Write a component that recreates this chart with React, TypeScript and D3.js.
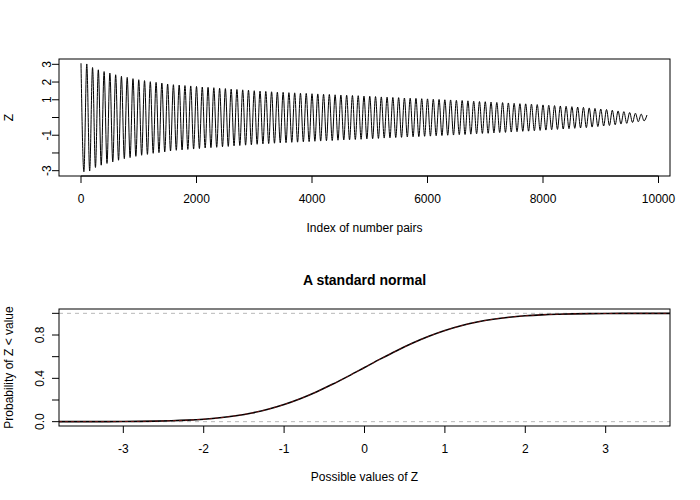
import { useMemo } from "react";
import { scaleLinear, line, curveMonotoneX } from "d3";

// top panel: peak height of each oscillation cycle (one cycle = 100 index steps)
const cycleLength = 100;
const cycleAmp = [
  3.06, 3.02, 2.82, 2.69, 2.59, 2.5, 2.41, 2.32, 2.26, 2.19, 2.13, 2.08, 2.02, 1.98, 1.94, 1.89, 1.85,
  1.83, 1.8, 1.78, 1.75, 1.72, 1.7, 1.68, 1.65, 1.63, 1.6, 1.58, 1.56, 1.54, 1.51, 1.49, 1.47, 1.45,
  1.43, 1.42, 1.4, 1.39, 1.37, 1.36, 1.34, 1.33, 1.31, 1.3, 1.28, 1.27, 1.26, 1.24, 1.23, 1.21, 1.2, 1.18,
  1.16, 1.15, 1.13, 1.12, 1.1, 1.09, 1.08, 1.06, 1.05, 1.03, 1.02, 1.0, 0.99, 0.97, 0.96, 0.94, 0.92,
  0.9, 0.89, 0.87, 0.85, 0.84, 0.82, 0.8, 0.78, 0.77, 0.75, 0.73, 0.71, 0.69, 0.67, 0.65, 0.63,
  0.61, 0.59, 0.57, 0.54, 0.51, 0.48, 0.45, 0.41, 0.37, 0.33, 0.28, 0.24, 0.19, 0.14,
];
const topXTicks = [0, 2000, 4000, 6000, 8000, 10000];
const topYTicks = [-3, -2, -1, 0, 1, 2, 3];
const topYLabels = ["-3", "", "-1", "", "1", "2", "3"];

// bottom panel: cumulative probability
const zValues = [
  -3.8, -3.6, -3.4, -3.2, -3.0, -2.8, -2.6, -2.4, -2.2, -2.0, -1.8, -1.6, -1.4, -1.2, -1.0, -0.8, -0.6, -0.4, -0.2, 0,
  0.2, 0.4, 0.6, 0.8, 1.0, 1.2, 1.4, 1.6, 1.8, 2.0, 2.2, 2.4, 2.6, 2.8, 3.0, 3.2, 3.4, 3.6, 3.8,
];
const probValues = [
  0.0001, 0.0002, 0.0003, 0.0007, 0.0013, 0.0026, 0.0047, 0.0082, 0.0139, 0.0228, 0.0359, 0.0548, 0.0808, 0.1151,
  0.1587, 0.2119, 0.2743, 0.3446, 0.4207, 0.5, 0.5793, 0.6554, 0.7257, 0.7881, 0.8413, 0.8849, 0.9192, 0.9452,
  0.9641, 0.9772, 0.9861, 0.9918, 0.9953, 0.9974, 0.9987, 0.9993, 0.9997, 0.9998, 0.9999,
];
const botXTicks = [-3, -2, -1, 0, 1, 2, 3];
const botYTicks = [0, 0.2, 0.4, 0.6, 0.8, 1.0];
const botYLabels = ["0.0", "", "0.4", "", "0.8", ""];
const refLines = [0, 1];

const font = "'Liberation Sans', Arial, Helvetica, sans-serif";

export default function App() {
  const left = 59;
  const right = 670;

  // top panel
  const x1 = scaleLinear().domain([-381, 10199]).range([left, right]);
  const y1 = scaleLinear().domain([-3.3, 3.3]).range([176, 59]);
  const zigzag = useMemo(() => {
    const pts: [number, number][] = [];
    cycleAmp.forEach((a, k) => {
      pts.push([k * cycleLength, a]);
      if (k < cycleAmp.length - 1) pts.push([k * cycleLength + cycleLength / 2, -a]);
    });
    return pts;
  }, []);
  const topPath =
    line<[number, number]>()
      .x((d) => x1(d[0]))
      .y((d) => y1(d[1]))
      .curve(curveMonotoneX)(zigzag) || "";

  // bottom panel
  const x2 = scaleLinear().domain([-3.8, 3.8]).range([left, right]);
  const y2 = scaleLinear().domain([-0.04, 1.04]).range([426, 309]);
  const cdf = zValues.map((z, i) => [z, probValues[i]] as [number, number]);
  const cdfPath =
    line<[number, number]>()
      .x((d) => x2(d[0]))
      .y((d) => y2(d[1]))
      .curve(curveMonotoneX)(cdf) || "";

  const midX = (left + right) / 2;

  return (
    <svg
      width={700}
      height={500}
      style={{ position: "absolute", left: 0, top: 0, background: "white" }}
      fontFamily={font}
    >
      {/* ---------- top panel ---------- */}
      <path d={topPath} fill="none" stroke="black" strokeWidth={1} />
      <rect x={left} y={59} width={right - left} height={117} fill="none" stroke="black" />
      <line x1={x1(0)} x2={x1(10000)} y1={176} y2={176} stroke="black" />
      {topXTicks.map((t) => (
        <g key={"tx" + t}>
          <line x1={x1(t)} x2={x1(t)} y1={176} y2={183} stroke="black" />
          <text x={x1(t)} y={202.5} fontSize={12} textAnchor="middle">
            {t}
          </text>
        </g>
      ))}
      {topYTicks.map((t, i) => (
        <g key={"ty" + t}>
          <line x1={52} x2={left} y1={y1(t)} y2={y1(t)} stroke="black" />
          {topYLabels[i] && (
            <text
              transform={`translate(51,${y1(t)}) rotate(-90)`}
              fontSize={12}
              textAnchor="middle"
            >
              {topYLabels[i]}
            </text>
          )}
        </g>
      ))}
      <text x={midX} y={231.5} fontSize={12} textAnchor="middle">
        Index of number pairs
      </text>
      <text transform={`translate(13,${(59 + 176) / 2}) rotate(-90)`} fontSize={12} textAnchor="middle">
        Z
      </text>

      {/* ---------- bottom panel ---------- */}
      <text x={midX} y={285} fontSize={14} fontWeight="bold" textAnchor="middle">
        A standard normal
      </text>
      {refLines.map((v) => (
        <line
          key={"h" + v}
          x1={left}
          x2={right}
          y1={y2(v)}
          y2={y2(v)}
          stroke="#b8b8b8"
          strokeDasharray="4,4"
        />
      ))}
      <path d={cdfPath} fill="none" stroke="black" strokeWidth={1.6} />
      <path d={cdfPath} fill="none" stroke="#d02020" strokeWidth={0.7} strokeOpacity={0.7} strokeDasharray="3,3" />
      <rect x={left} y={309} width={right - left} height={117} fill="none" stroke="black" />
      {botXTicks.map((t) => (
        <g key={"bx" + t}>
          <line x1={x2(t)} x2={x2(t)} y1={426} y2={433} stroke="black" />
          <text x={x2(t)} y={452.5} fontSize={12} textAnchor="middle">
            {t}
          </text>
        </g>
      ))}
      {botYTicks.map((t, i) => (
        <g key={"by" + t}>
          <line x1={52} x2={left} y1={y2(t)} y2={y2(t)} stroke="black" />
          {botYLabels[i] && (
            <text
              transform={`translate(43.5,${y2(t)}) rotate(-90)`}
              fontSize={12}
              textAnchor="middle"
            >
              {botYLabels[i]}
            </text>
          )}
        </g>
      ))}
      <text x={midX} y={481} fontSize={12} textAnchor="middle">
        Possible values of Z
      </text>
      <text transform={`translate(13,${(309 + 426) / 2}) rotate(-90)`} fontSize={12} textAnchor="middle">
        {"Probability of Z < value"}
      </text>
    </svg>
  );
}
